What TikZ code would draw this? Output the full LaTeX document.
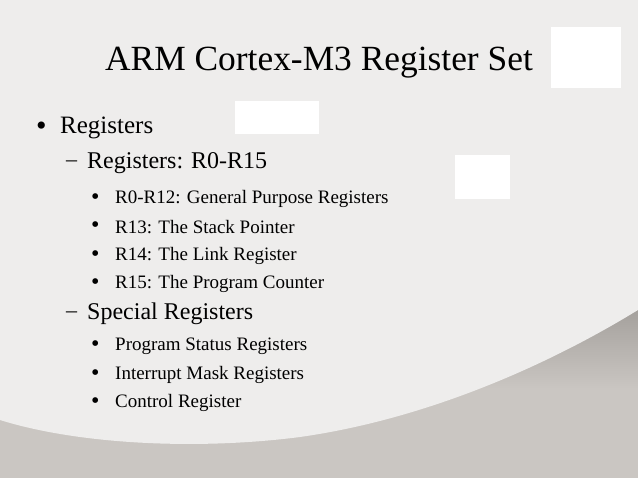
\documentclass[tikz,border=0pt]{standalone}
\usepackage{fontspec}
\setmainfont{Liberation Serif}
\definecolor{bgl}{RGB}{238,237,236}
\definecolor{bgd}{RGB}{202,198,194}
\definecolor{bgs}{RGB}{160,156,152}
\begin{document}
\begin{tikzpicture}[x=1pt,y=-1pt,
  t/.style={anchor=west,inner sep=0pt,text=black},
  l1/.style={t,font=\fontsize{25}{27}\selectfont},
  l2/.style={t,font=\fontsize{24}{26}\selectfont},
  l3/.style={t,font=\fontsize{19}{21}\selectfont}]
\useasboundingbox (0,0) rectangle (638,478);
\shade[top color=bgs, bottom color=bgd, middle color=bgd] (0,300) rectangle (638,478);
\fill[bgl] (0,0) -- (638,0) -- (638,310) .. controls (540,370) and (420,420) .. (300,437) .. controls (200,450) and (80,445) .. (0,420) -- cycle;
\fill[white] (551,27) rectangle (621,88);
\fill[white] (235,101) rectangle (319,134);
\fill[white] (455,155) rectangle (510,199);
\node[anchor=center,font=\fontsize{35.4}{38}\selectfont] (title) at (319,63) {ARM Cortex-M3 Register Set};
\node[t,font=\fontsize{30}{32}\selectfont] (b1) at (36,129) {•};
\node[t,font=\fontsize{22}{24}\selectfont] (d1) at (66,164) {–};
\node[l1] (r) at (60,128) {Registers};
\node[l2] (r2) at (87,163) {Registers: R0-R15};
\foreach \y/\txt/\n in {199/{R0-R12: General Purpose Registers}/a, 227/{R13: The Stack Pointer}/b, 256/{R14: The Link Register}/c, 284/{R15: The Program Counter}/d, 346/{Program Status Registers}/e, 375/{Interrupt Mask Registers}/f, 403/{Control Register}/g}{
  \node[t,font=\fontsize{24}{26}\selectfont] (bul\n) at (91,\y) {•};
  \node[l3] (txt\n) at (115,\y) {\txt};
}
\node[t,font=\fontsize{22}{24}\selectfont] (d2) at (66,315) {–};
\node[l2] (s) at (87,314) {Special Registers};
\end{tikzpicture}
\end{document}
